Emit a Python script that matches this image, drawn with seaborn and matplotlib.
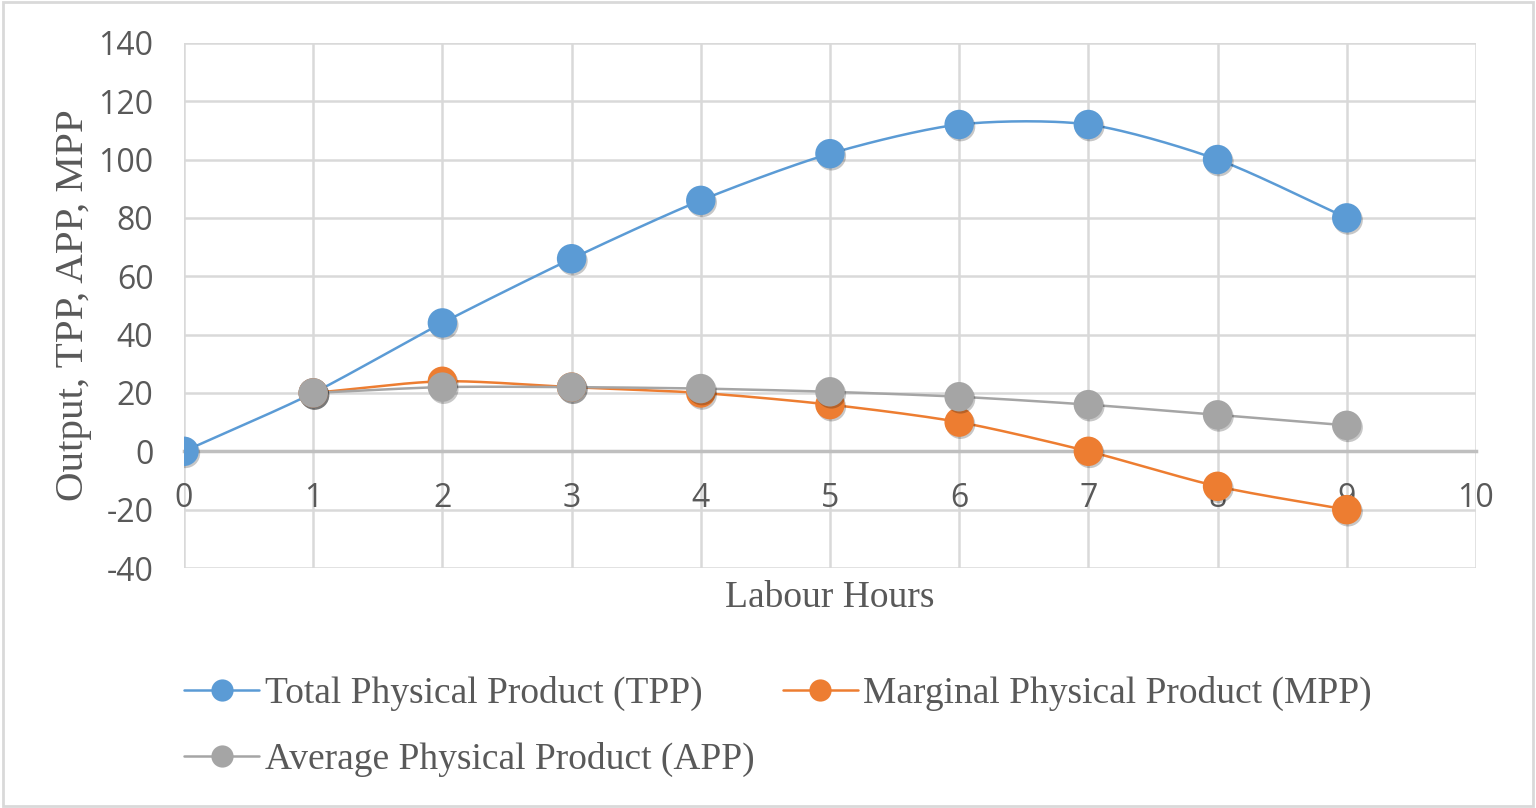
import numpy as np
import pandas as pd
import matplotlib
matplotlib.use("Agg")
import matplotlib.pyplot as plt
import matplotlib.patheffects as pe
from matplotlib.lines import Line2D
import seaborn as sns

# data
labour = [0, 1, 2, 3, 4, 5, 6, 7, 8, 9]
tpp = [0, 20, 44, 66, 86, 102, 112, 112, 100, 80]
labour_m = [1, 2, 3, 4, 5, 6, 7, 8, 9]
mpp = [20, 24, 22, 20, 16, 10, 0, -12, -20]
app = [20, 22, 22, 21.5, 20.4, 18.7, 16, 12.5, 8.9]

names = ["Total Physical Product (TPP)", "Marginal Physical Product (MPP)",
         "Average Physical Product (APP)"]
colors = ["#5B9BD5", "#ED7D31", "#A5A5A5"]

sns.set_style("white")
plt.rcParams["font.family"] = ["Open Sans", "DejaVu Sans"]
plt.rcParams["axes.unicode_minus"] = False
serif = ["Liberation Serif", "DejaVu Serif"]


def smooth(x, y, n=30):
    # catmull-rom style smoothing like Excel's "smoothed line"
    x = np.asarray(x, float)
    y = np.asarray(y, float)
    px = np.concatenate([[2 * x[0] - x[1]], x, [2 * x[-1] - x[-2]]])
    py = np.concatenate([[2 * y[0] - y[1]], y, [2 * y[-1] - y[-2]]])
    xs, ys = [], []
    t = np.linspace(0, 1, n)
    for i in range(1, len(px) - 2):
        for arr, out in ((px, xs), (py, ys)):
            p0, p1, p2, p3 = arr[i - 1], arr[i], arr[i + 1], arr[i + 2]
            m1 = (p2 - p0) / 2 * 0.8
            m2 = (p3 - p1) / 2 * 0.8
            h00 = 2 * t**3 - 3 * t**2 + 1
            h10 = t**3 - 2 * t**2 + t
            h01 = -2 * t**3 + 3 * t**2
            h11 = t**3 - t**2
            out.extend(h00 * p1 + h10 * m1 + h01 * p2 + h11 * m2)
    return np.array(xs), np.array(ys)


fig = plt.figure(figsize=(15.36, 8.08), dpi=100)
ax = fig.add_axes([0.1198, 0.297, 0.8411, 0.650])

series = [(labour, tpp), (labour_m, mpp), (labour_m, app)]
shadow = [pe.SimplePatchShadow(offset=(1, -1.5), shadow_rgbFace="black", alpha=0.22),
          pe.Normal()]
for (xv, yv), name, c in zip(series, names, colors):
    sx, sy = smooth(xv, yv)
    ax.plot(sx, sy, color=c, lw=1.8, zorder=3)
    df = pd.DataFrame({"x": xv, "y": yv})
    sns.scatterplot(data=df, x="x", y="y", ax=ax, color=c, s=450,
                    edgecolor="none", zorder=4, legend=False)
    ax.collections[-1].set_path_effects(shadow)

ax.set_xlabel("")
ax.set_ylabel("")
ax.set_xlim(0, 10)
ax.set_ylim(-40, 140)
ax.set_xticks(range(0, 11))
ax.set_yticks(range(-40, 141, 20))
ax.grid(True, color="#D9D9D9", lw=1.8)
ax.set_axisbelow(True)
for s in ["top", "right", "left"]:
    ax.spines[s].set_visible(False)
ax.spines["bottom"].set_position(("data", 0))
ax.spines["bottom"].set_color("#BFBFBF")
ax.spines["bottom"].set_linewidth(2.5)
ax.tick_params(axis="both", length=0, labelsize=23, colors="#595959")
ax.tick_params(axis="x", pad=22)
ax.tick_params(axis="y", pad=22)

fig.text(0.540, 0.260, "Labour Hours", ha="center", va="center",
         fontsize=27, family=serif, color="#595959")
fig.text(0.048, 0.622, "Output, TPP, APP, MPP", ha="center", va="center",
         rotation=90, fontsize=29.5, family=serif, color="#595959")

handles = [Line2D([0], [0], color=c, lw=1.8, marker="o", markersize=16,
                  markeredgecolor="none") for c in colors]
order = [0, 2, 1]  # column-major fill -> rows: TPP, MPP / APP
fig.legend([handles[i] for i in order], [names[i] for i in order],
           loc="upper left", bbox_to_anchor=(0.12, 0.163),
           ncol=2, frameon=False, prop={"family": serif, "size": 27},
           labelcolor="#595959", handlelength=2.0, handletextpad=0.15,
           columnspacing=0.75, labelspacing=0.82, borderpad=0, borderaxespad=0)

# light outer border like the exported chart area
fig.patches.append(plt.Rectangle((0.002, 0.003), 0.996, 0.994, transform=fig.transFigure,
                                 fill=False, edgecolor="#D9D9D9", lw=2))

fig.savefig("out.png", dpi=100)
